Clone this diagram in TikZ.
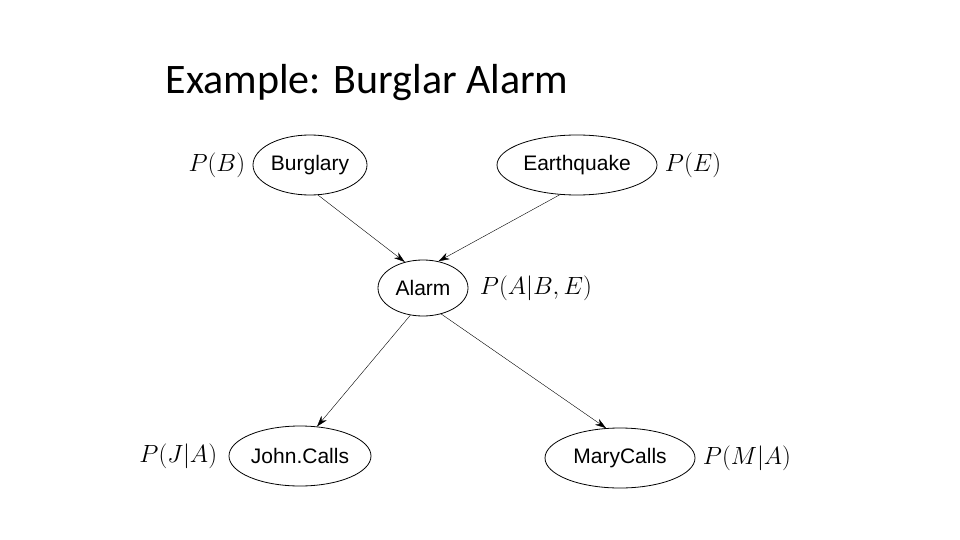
\documentclass[tikz,border=0pt]{standalone}
\usepackage{fontspec}
\setmainfont{Carlito}
\newfontfamily\arialf{Liberation Sans}
\usetikzlibrary{positioning,shapes.geometric,arrows.meta}

\tikzset{
  var/.style={draw, ellipse, thick, font=\arialf\fontsize{21}{23}\selectfont, inner sep=0pt},
  prob/.style={font=\fontsize{30}{32}\selectfont},
  link/.style={-{Stealth[length=11pt,width=7pt]}, thin}
}

\begin{document}
\begin{tikzpicture}[x=1pt,y=-1pt]
        \useasboundingbox (0,0) rectangle (960,540);
        \node[anchor=base west, font=\fontsize{42}{44}\selectfont] (title) at (162,94) {Example: Burglar Alarm};

        \node[var, minimum width=114, minimum height=60] (burg) at (310,165) {Burglary};
        \node[var, minimum width=160, minimum height=60] (quake) at (577,165) {Earthquake};
        \node[var, minimum width=90, minimum height=56] (alarm) at (423,288) {Alarm};
        \node[var, minimum width=142, minimum height=60] (john) at (300,456) {John.Calls};
        \node[var, minimum width=150, minimum height=60] (mary) at (620,458) {MaryCalls};

        \node[prob, left=4 of burg] (pb) {$P(B)$};
        \node[prob, right=4 of quake] (pe) {$P(E)$};
        \node[prob, right=8 of alarm] (pa) {$P(A|B,E)$};
        \node[prob, left=8 of john] (pj) {$P(J|A)$};
        \node[prob, right=4 of mary] (pm) {$P(M|A)$};

        \draw[link] (burg.-75) -- (alarm.125);
        \draw[link] (quake.-120) -- (alarm.60);
        \draw[link] (alarm.-115) -- (john.60);
        \draw[link] (alarm.-55) -- (mary.115);
\end{tikzpicture}
\end{document}
